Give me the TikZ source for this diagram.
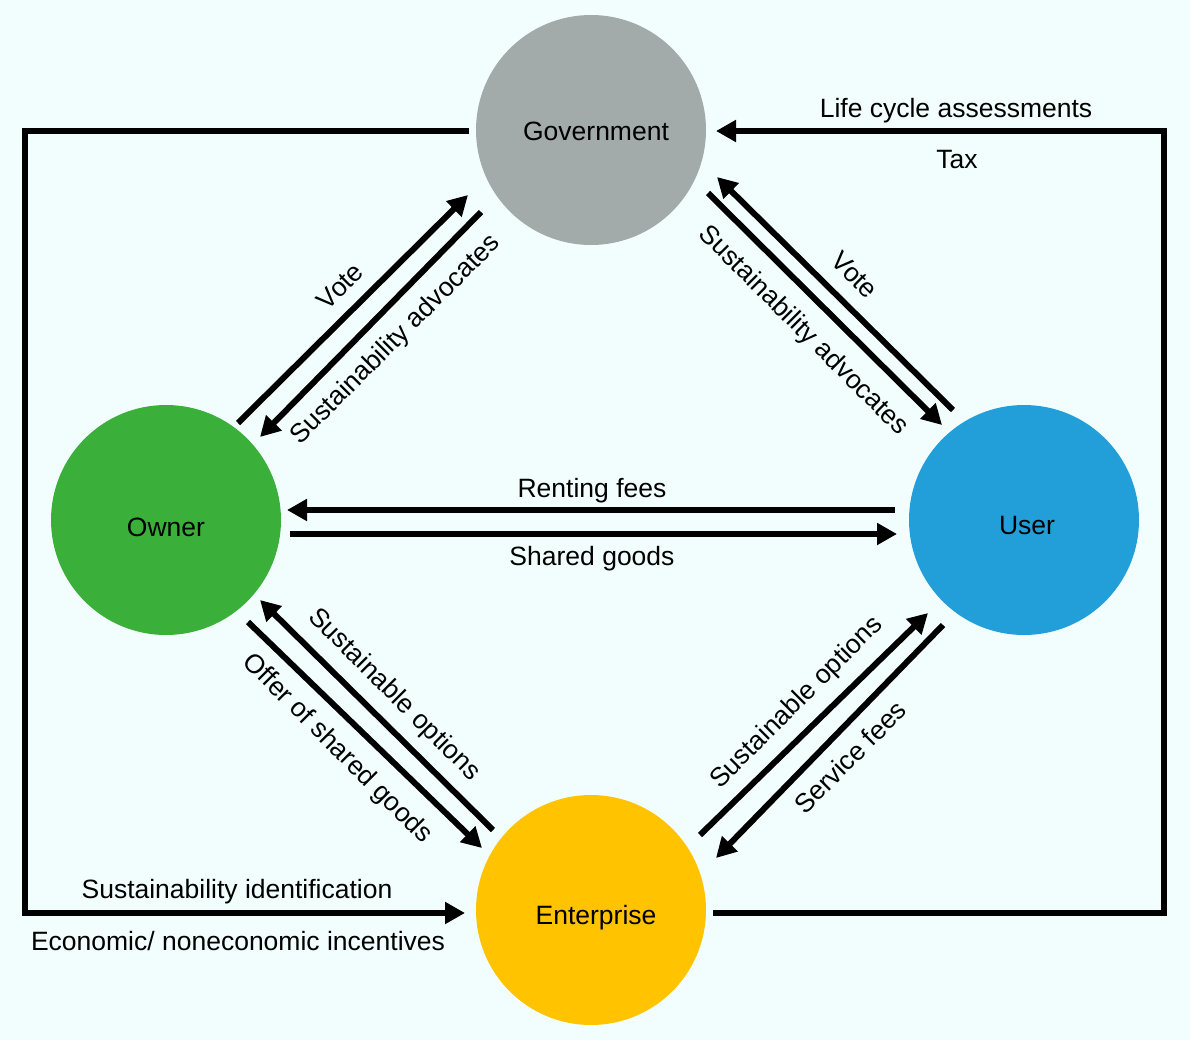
\documentclass[tikz,border=0pt]{standalone}
\usepackage{fontspec}
\setmainfont{Liberation Sans}
\usetikzlibrary{arrows.meta}
\definecolor{bgc}{HTML}{F2FEFE}
\definecolor{govc}{HTML}{A2AAAA}
\definecolor{ownc}{HTML}{3AB03A}
\definecolor{usrc}{HTML}{229FD8}
\definecolor{entc}{HTML}{FFC300}
\tikzset{
  actor/.style={circle, minimum size=230pt, inner sep=0pt, draw=none},
  ctext/.style={inner sep=0pt, font=\fontsize{26.5}{31}\selectfont},
  lbl/.style={inner sep=0pt, font=\fontsize{26.5}{31}\selectfont},
  flow/.style={line width=6pt, -{Triangle[length=20pt,width=21pt]}},
  plain/.style={line width=6pt, line join=miter},
}
\begin{document}
\begin{tikzpicture}[x=1pt,y=-1pt]
\useasboundingbox (0,0) rectangle (1200,1049);
\fill[white] (0,0) rectangle (1200,1049);
\fill[bgc] (0,0) rectangle (1190,1040);

\node[actor, fill=govc, label={[ctext, xshift=5pt, yshift=-1pt]center:Government}] (gov) at (591,130) {};
\node[actor, fill=ownc, label={[ctext, yshift=-7pt]center:Owner}] (own) at (166,520) {};
\node[actor, fill=usrc, label={[ctext, xshift=3pt, yshift=-6pt]center:User}] (usr) at (1024,520) {};
\node[actor, fill=entc, label={[ctext, xshift=5pt, yshift=-8pt]center:Enterprise}] (ent) at (591,910) {};

% frame coordinates
\coordinate (tl) at (25,131);
\coordinate (bl) at (25,913);
\coordinate (tr) at (1164,131);
\coordinate (br) at (1164,913);
\coordinate (gl) at (469,131);
\coordinate (el) at (465,913);
\coordinate (gr) at (716,131);
\coordinate (er) at (713,913);

\draw[plain, -{Triangle[length=20pt,width=21pt]}] (gl) -- (tl) -- (bl) -- (el);
\draw[plain, -{Triangle[length=20pt,width=21pt]}] (er) -- (br) -- (tr) -- (gr);

\node[lbl] (lca) at (956,111) {Life cycle assessments};
\node[lbl] (tax) at (957,160) {Tax};
\node[lbl] (sid) at (237,892) {Sustainability identification};
\node[lbl] (eni) at (238,941) {Economic/ noneconomic incentives};

% Owner <-> User
\coordinate (rf1) at (895,510);
\coordinate (rf2) at (287,510);
\coordinate (sg1) at (290,534);
\coordinate (sg2) at (897,534);
\draw[flow] (rf1) -- (rf2);
\draw[flow] (sg1) -- (sg2);
\node[lbl] (rft) at (592,491) {Renting fees};
\node[lbl] (sgt) at (592,559) {Shared goods};

% Owner <-> Government
\coordinate (ov1) at (238,423);
\coordinate (ov2) at (468,195);
\coordinate (os1) at (481,212);
\coordinate (os2) at (260,437);
\draw[flow] (ov1) -- (ov2);
\draw[flow] (os1) -- (os2);
\node[lbl, rotate=45] (ovt) at (340,286) {Vote};
\node[lbl, rotate=45] (ost) at (396,340) {Sustainability advocates};

% User <-> Government
\coordinate (uv1) at (953,410);
\coordinate (uv2) at (717,177);
\coordinate (us1) at (708,193);
\coordinate (us2) at (942,425);
\draw[flow] (uv1) -- (uv2);
\draw[flow] (us1) -- (us2);
\node[lbl, rotate=-45] (uvt) at (855,275) {Vote};
\node[lbl, rotate=-45] (ust) at (803,331) {Sustainability advocates};

% Owner <-> Enterprise
\coordinate (eo1) at (493,830);
\coordinate (eo2) at (260,600);
\coordinate (oe1) at (248,622);
\coordinate (oe2) at (482,848);
\draw[flow] (eo1) -- (eo2);
\draw[flow] (oe1) -- (oe2);
\node[lbl, rotate=-45] (eot) at (394,695) {Sustainable options};
\node[lbl, rotate=-45] (oet) at (337,749) {Offer of shared goods};

% Enterprise <-> User
\coordinate (eu1) at (700,835);
\coordinate (eu2) at (928,613);
\coordinate (ue1) at (943,625);
\coordinate (ue2) at (716,858);
\draw[flow] (eu1) -- (eu2);
\draw[flow] (ue1) -- (ue2);
\node[lbl, rotate=45] (eut) at (797,703) {Sustainable options};
\node[lbl, rotate=45] (uet) at (850,757) {Service fees};
\end{tikzpicture}
\end{document}
